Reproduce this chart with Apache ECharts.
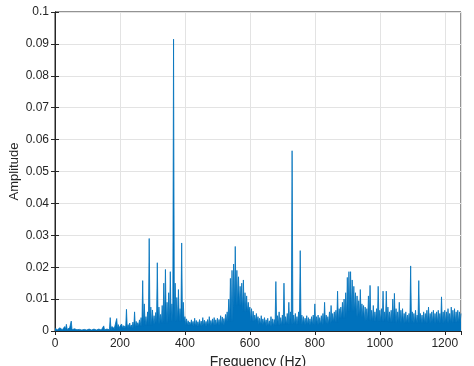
<!DOCTYPE html>
<html>
<head>
<meta charset="utf-8">
<script src="https://cdn.jsdelivr.net/npm/echarts@6/dist/echarts.min.js"></script>
<style>
  html, body { margin: 0; padding: 0; background: #fff; }
  #spec { width: 474px; height: 366px; }
</style>
</head>
<body>
<div id="spec"></div>
<script>
// spectrum: local peak every 5 Hz, 0..1250 Hz
var freqStep = 5;
var peakAmp = [
  0.0008,0.0012,0.0006,0.0010,0.0007,0.0009,0.0014,0.0021,0.0008,0.0010,   // 0
  0.0031,0.0009,0.0007,0.0006,0.0008,0.0005,0.0007,0.0006,0.0005,0.0006,   // 50
  0.0005,0.0006,0.0004,0.0005,0.0006,0.0005,0.0004,0.0006,0.0007,0.0006,   // 100
  0.0016,0.0008,0.0006,0.0010,0.0042,0.0014,0.0018,0.0012,0.0039,0.0020,   // 150
  0.0015,0.0022,0.0017,0.0016,0.0068,0.0020,0.0025,0.0019,0.0028,0.0060,   // 200
  0.0030,0.0026,0.0035,0.0042,0.0158,0.0085,0.0045,0.0060,0.0290,0.0075,   // 250
  0.0066,0.0048,0.0058,0.0214,0.0075,0.0052,0.0080,0.0150,0.0193,0.0090,   // 300
  0.0120,0.0186,0.0085,0.0915,0.0150,0.0105,0.0130,0.0070,0.0276,0.0090,   // 350
  0.0045,0.0038,0.0032,0.0028,0.0035,0.0030,0.0040,0.0033,0.0029,0.0036,   // 400
  0.0031,0.0042,0.0034,0.0030,0.0036,0.0045,0.0033,0.0038,0.0042,0.0035,   // 450
  0.0040,0.0036,0.0048,0.0044,0.0039,0.0052,0.0060,0.0100,0.0165,0.0190,   // 500
  0.0210,0.0265,0.0190,0.0170,0.0140,0.0150,0.0160,0.0120,0.0110,0.0090,   // 550
  0.0075,0.0070,0.0062,0.0050,0.0055,0.0045,0.0040,0.0048,0.0038,0.0042,   // 600
  0.0035,0.0040,0.0032,0.0045,0.0038,0.0036,0.0155,0.0048,0.0060,0.0042,   // 650
  0.0050,0.0150,0.0045,0.0055,0.0090,0.0060,0.0565,0.0050,0.0055,0.0045,   // 700
  0.0060,0.0252,0.0050,0.0045,0.0040,0.0048,0.0042,0.0038,0.0045,0.0050,   // 750
  0.0085,0.0045,0.0050,0.0042,0.0048,0.0055,0.0090,0.0050,0.0045,0.0060,   // 800
  0.0080,0.0055,0.0060,0.0065,0.0125,0.0070,0.0075,0.0090,0.0100,0.0120,   // 850
  0.0168,0.0186,0.0186,0.0160,0.0140,0.0120,0.0110,0.0095,0.0130,0.0085,   // 900
  0.0080,0.0075,0.0070,0.0110,0.0143,0.0065,0.0080,0.0060,0.0070,0.0140,   // 950
  0.0065,0.0070,0.0125,0.0060,0.0125,0.0075,0.0060,0.0065,0.0100,0.0118,   // 1000
  0.0070,0.0060,0.0090,0.0065,0.0070,0.0055,0.0060,0.0050,0.0055,0.0204,   // 1050
  0.0060,0.0055,0.0065,0.0050,0.0158,0.0055,0.0050,0.0060,0.0055,0.0065,   // 1100
  0.0075,0.0055,0.0060,0.0065,0.0055,0.0060,0.0065,0.0055,0.0107,0.0060,   // 1150
  0.0065,0.0060,0.0070,0.0055,0.0075,0.0065,0.0070,0.0060,0.0065,0.0060,   // 1200
  0.0055
];
// top of the solid noise band (valleys between peaks), every 25 Hz
var bandStep = 25;
var bandAmp = [
  0.0004,0.0005,0.0004,0.0003,0.0003,0.0003,0.0004,0.0008,0.0009,0.0010,   // 0
  0.0015,0.0018,0.0022,0.0025,0.0030,0.0030,0.0018,0.0015,0.0016,0.0017,   // 250
  0.0019,0.0030,0.0080,0.0060,0.0030,0.0020,0.0016,0.0018,0.0020,0.0020,   // 500
  0.0020,0.0019,0.0020,0.0022,0.0028,0.0040,0.0060,0.0045,0.0032,0.0030,   // 750
  0.0030,0.0028,0.0026,0.0025,0.0025,0.0025,0.0026,0.0025,0.0026,0.0027,   // 1000
  0.0026
];
var xTicks = [0, 200, 400, 600, 800, 1000, 1200];

// peaks and band values alternate so the line fills like the raw fft
var specData = [];
for (var i = 0; i < peakAmp.length; i++) {
  var f = i * freqStep;
  specData.push([f, peakAmp[i]]);
  if (i < peakAmp.length - 1) {
    specData.push([f + freqStep / 2, bandAmp[Math.floor(f / bandStep)]]);
  }
}

var spec = echarts.init(document.getElementById('spec'));

var txt = '#262626';
var fontFam = 'Liberation Sans, Arial, sans-serif';

option_spec = {
  animation: false,
  grid: {
    left: 55, right: 13, top: 12, bottom: 35,
    outerBoundsMode: 'none',
    containLabel: false,
    show: true, borderColor: txt, borderWidth: 1, backgroundColor: '#fff'
  },
  xAxis: [
    {
      type: 'value', min: 0, max: 1250, interval: 200,
      name: 'Frequency (Hz)', nameLocation: 'middle', nameGap: 24,
      nameMoveOverlap: false,
      nameTextStyle: { color: txt, fontSize: 14, fontFamily: fontFam },
      axisLine: { show: true, lineStyle: { color: txt } },
      axisTick: { inside: true, length: 4, lineStyle: { color: txt } },
      axisLabel: {
        color: txt, fontSize: 12, fontFamily: fontFam, margin: 7,
        showMaxLabel: false,
        formatter: function (v) { return xTicks.indexOf(v) >= 0 ? v : ''; }
      },
      splitLine: { show: true, lineStyle: { color: '#e3e3e3' } }
    },
    {
      type: 'value', position: 'top', min: 0, max: 1250, interval: 200,
      axisLine: { show: true, lineStyle: { color: txt } },
      axisTick: { inside: true, length: 4, lineStyle: { color: txt } },
      axisLabel: { show: false },
      splitLine: { show: false }
    }
  ],
  yAxis: [
    {
      type: 'value', min: 0, max: 0.1, interval: 0.01,
      name: 'Amplitude', nameLocation: 'middle', nameGap: 34,
      nameMoveOverlap: false,
      nameTextStyle: { color: txt, fontSize: 13, fontFamily: fontFam },
      axisLine: { show: true, lineStyle: { color: txt } },
      axisTick: { inside: true, length: 4, lineStyle: { color: txt } },
      axisLabel: {
        color: txt, fontSize: 12, fontFamily: fontFam, margin: 6,
        formatter: function (v) { return +v.toFixed(2); }
      },
      splitLine: { show: true, lineStyle: { color: '#e3e3e3' } }
    },
    {
      type: 'value', position: 'right', min: 0, max: 0.1, interval: 0.01,
      axisLine: { show: true, lineStyle: { color: txt } },
      axisTick: { inside: true, length: 4, lineStyle: { color: txt } },
      axisLabel: { show: false },
      splitLine: { show: false }
    }
  ],
  series: [
    {
      name: 'spectrum',
      type: 'line',
      data: specData,
      showSymbol: false,
      symbol: 'none',
      lineStyle: { color: '#0072BD', width: 0.8 },
      areaStyle: { color: '#0072BD', opacity: 1 },
      clip: true
    }
  ]
};

spec.setOption(option_spec);
</script>
</body>
</html>
